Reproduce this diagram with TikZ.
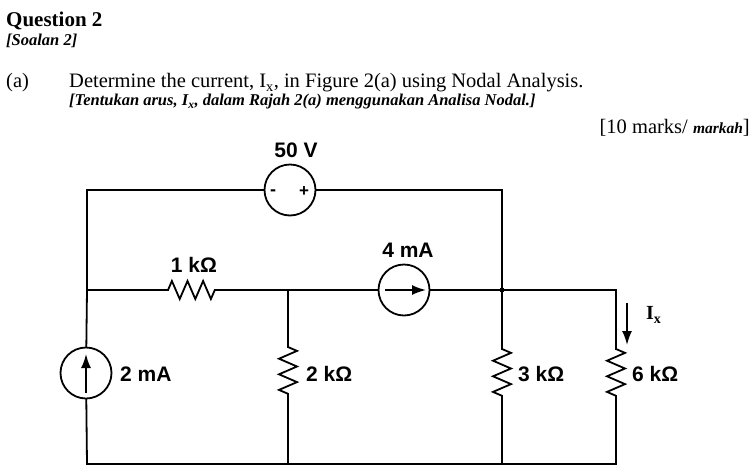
\documentclass[tikz,border=0pt]{standalone}
\usepackage{fontspec}
\setmainfont{Liberation Serif}
\setsansfont{Liberation Sans}
\usetikzlibrary{arrows.meta}
\usetikzlibrary{decorations.pathmorphing}
\tikzset{>=latex}
\tikzset{
source/.style={circle, draw, line width=1.8pt, minimum size=51pt, inner sep=0pt},
wire/.style={line width=1.8pt},
res/.style={line width=1.8pt, decorate, decoration={zigzag, segment length=15.6pt, amplitude=9pt}},
val/.style={font=\sffamily\bfseries\fontsize{21}{24}\selectfont, inner sep=0pt},
txt/.style={anchor=west, inner sep=0pt, font=\fontsize{20.5}{24}\selectfont},
note/.style={anchor=west, inner sep=0pt, font=\bfseries\itshape\fontsize{16.5}{20}\selectfont}
}
\begin{document}
\begin{tikzpicture}[x=1pt, y=-1pt]
\useasboundingbox (0,0) rectangle (751,471);
\node[txt, font=\bfseries\fontsize{21}{24}\selectfont] (q) at (6,21) {Question 2};
\node[note] (qm) at (6,41) {[Soalan 2]};
\node[txt] (part) at (6,83) {(a)};
\node[txt] (ask) at (69,83) {Determine the current, I\textsubscript{x}, in Figure 2(a) using Nodal Analysis.};
\node[note] (askm) at (69,102) {[Tentukan arus, I\textsubscript{x}, dalam Rajah 2(a) menggunakan Analisa Nodal.]};
\node[txt, anchor=east] (marks) at (750,128) {[10 marks/ {\bfseries\itshape\fontsize{15.5}{20}\selectfont markah}]};

% corners
\coordinate (tl) at (87,190);
\coordinate (ml) at (87,290);
\coordinate (bl) at (87,464);
\coordinate (tr) at (502,190);
\coordinate (mr) at (502,290);
\coordinate (br) at (502,464);
\coordinate (mf) at (616,290);
\coordinate (bf) at (616,464);
\coordinate (mm) at (288,290);
\coordinate (bm) at (288,464);
% resistor ends
\coordinate (r1a) at (168,290);
\coordinate (r1b) at (215,290);
\coordinate (r2a) at (288,347);
\coordinate (r2b) at (288,395);
\coordinate (r3a) at (502,349);
\coordinate (r3b) at (502,396);
\coordinate (r6a) at (616,349);
\coordinate (r6b) at (616,396);

\node[source] (vs) at (290,190) {};
\node[source] (is4) at (404,290) {};
\node[source] (is2) at (86,373) {};

\path[wire, line cap=rect]
(tl) edge (vs) edge (ml)
(vs) edge (tr)
(tr) edge (mr)
(ml) edge (r1a) edge (is2)
(r1b) edge (mm)
(mm) edge (is4) edge (r2a)
(is4) edge (mr)
(is2) edge (bl)
(r2b) edge (bm)
(mr) edge (mf) edge (r3a)
(r3b) edge (br)
(mf) edge (r6a)
(r6b) edge (bf)
(bl) edge (br)
(br) edge (bf)
;
\path
(r1a) edge[res] (r1b)
(r2a) edge[res] (r2b)
(r3a) edge[res] (r3b)
(r6a) edge[res] (r6b)
;
\fill (mr) circle (2.5pt);

\coordinate (a4a) at (385,290);
\coordinate (a4b) at (426,290);
\coordinate (a2a) at (86,393);
\coordinate (a2b) at (86,354);
\coordinate (ixa) at (627,303);
\coordinate (ixb) at (627,345);
\path[->, wire, >={Latex[length=14pt,width=10pt]}]
(a4a) edge (a4b)
(a2a) edge (a2b)
(ixa) edge (ixb)
;

\node[val, font=\sffamily\bfseries\fontsize{18}{20}\selectfont] (minus) at (273,193) {-};
\node[val, font=\sffamily\bfseries\fontsize{17}{20}\selectfont] (plus) at (304,192) {+};
\node[val] (l50) at (296,150) {50 V};
\node[val] (l4) at (408,250) {4 mA};
\node[val] (l1) at (194,265) {1 kΩ};
\node[val, anchor=west] (l2m) at (120,374) {2 mA};
\node[val, anchor=west] (l2k) at (306,374) {2 kΩ};
\node[val, anchor=west] (l3k) at (518,374) {3 kΩ};
\node[val, anchor=west] (l6k) at (632,374) {6 kΩ};
\node[txt, font=\bfseries\fontsize{20}{24}\selectfont] (lx) at (646,315) {I\textsubscript{x}};
\end{tikzpicture}
\end{document}
